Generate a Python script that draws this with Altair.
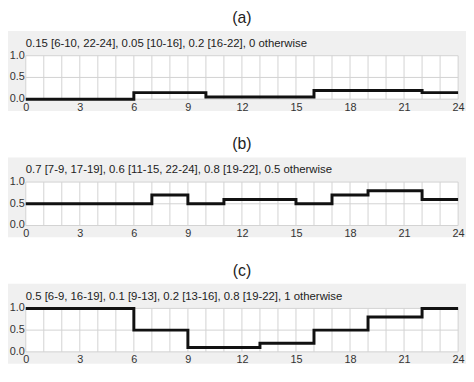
import altair as alt
import pandas as pd

# ---- data ----
PANEL_TITLES = ["(a)", "(b)", "(c)"]
PANEL_TEXTS = [
    "0.15 [6-10, 22-24], 0.05 [10-16], 0.2 [16-22], 0 otherwise",
    "0.7 [7-9, 17-19], 0.6 [11-15, 22-24], 0.8 [19-22], 0.5 otherwise",
    "0.5 [6-9, 16-19], 0.1 [9-13], 0.2 [13-16], 0.8 [19-22], 1 otherwise",
]
A_HOURS = [0, 6, 10, 16, 22, 24]
A_VALUES = [0.0, 0.15, 0.05, 0.2, 0.15, 0.15]
B_HOURS = [0, 7, 9, 11, 15, 17, 19, 22, 24]
B_VALUES = [0.5, 0.7, 0.5, 0.6, 0.5, 0.7, 0.8, 0.6, 0.6]
C_HOURS = [0, 6, 9, 13, 16, 19, 22, 24]
C_VALUES = [1.0, 0.5, 0.1, 0.2, 0.5, 0.8, 1.0, 1.0]
X_TICKS = [0, 3, 6, 9, 12, 15, 18, 21, 24]
Y_TICKS = [0.0, 0.5, 1.0]
Y_LABELS = ["0.0", "0.5", "1.0"]
GRID_HOURS = list(range(0, 25))

FONT = "Liberation Sans"
W, H = 438, 44
BOX_GRAY = "#f0f0f0"
GRID = "#d2d2d2"
LABEL_COLOR = "#333333"

xscale = alt.Scale(domain=[0, 24], nice=False, zero=False)
yscale = alt.Scale(domain=[0, 1], nice=False)

xaxis = alt.Axis(
    values=X_TICKS, title=None, grid=False, domain=False, ticks=False,
    labelFlush=False, labelOverlap=False, labelPadding=2, zindex=2,
    labelFont=FONT, labelFontSize=11, labelColor=LABEL_COLOR,
)


def panel(title, text, hours, values):
    df = pd.DataFrame({"hour": hours, "value": values})
    one = alt.Data(values=[{}])

    box = alt.Chart(one).mark_rect(color=BOX_GRAY).encode(
        x=alt.value(-18), x2=alt.value(W + 8), y=alt.value(-25), y2=alt.value(H + 12)
    )
    plot_bg = alt.Chart(one).mark_rect(color="white").encode(
        x=alt.value(0), x2=alt.value(W), y=alt.value(0), y2=alt.value(H)
    )
    vgrid = alt.Chart(pd.DataFrame({"h": GRID_HOURS})).mark_rule(
        color=GRID, strokeWidth=1
    ).encode(
        x=alt.X("h:Q", scale=xscale, axis=xaxis), y=alt.value(0), y2=alt.value(H)
    )
    hgrid = alt.Chart(pd.DataFrame({"v": Y_TICKS})).mark_rule(
        color=GRID, strokeWidth=1
    ).encode(
        y=alt.Y("v:Q", scale=yscale, axis=None), x=alt.value(0), x2=alt.value(W)
    )
    ylabels = alt.Chart(pd.DataFrame({"v": Y_TICKS, "lab": Y_LABELS})).mark_text(
        align="right", baseline="middle", font=FONT, fontSize=11, color=LABEL_COLOR
    ).encode(
        y=alt.Y("v:Q", scale=yscale, axis=None), x=alt.value(-1), text="lab:N"
    )
    line = alt.Chart(df).mark_line(
        interpolate="step-after", color="#111111", strokeWidth=3
    ).encode(
        x=alt.X("hour:Q", scale=xscale),
        y=alt.Y("value:Q", scale=yscale, axis=None),
    )
    label = alt.Chart(one).mark_text(
        text=text, align="left", baseline="alphabetic", font=FONT,
        fontSize=11.5, color="#222222"
    ).encode(x=alt.value(0), y=alt.value(-9))

    return alt.layer(box, plot_bg, vgrid, hgrid, line, ylabels, label).properties(
        width=W,
        height=H,
        title=alt.TitleParams(
            title, fontSize=16, font=FONT, fontWeight="normal", color="#222222",
            anchor="middle", offset=5,
        ),
    )


chart = alt.vconcat(
    panel(PANEL_TITLES[0], PANEL_TEXTS[0], A_HOURS, A_VALUES),
    panel(PANEL_TITLES[1], PANEL_TEXTS[1], B_HOURS, B_VALUES),
    panel(PANEL_TITLES[2], PANEL_TEXTS[2], C_HOURS, C_VALUES),
    spacing=25,
).properties(padding=0).configure_view(stroke=None)

chart.save("out.html", embed_options={"renderer": "svg", "actions": False})
